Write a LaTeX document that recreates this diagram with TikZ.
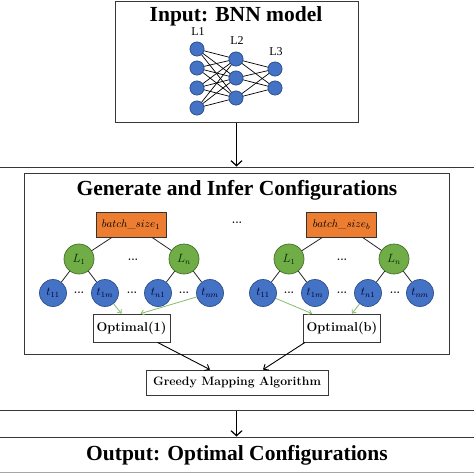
\documentclass[tikz,border=0pt]{standalone}
\usepackage{fontspec}
\newfontfamily\tnr{Liberation Serif}
\usetikzlibrary{arrows.meta}
\definecolor{nblue}{HTML}{4472C4}
\definecolor{nblued}{HTML}{2F528F}
\definecolor{ngreen}{HTML}{70AD47}
\definecolor{ngreend}{HTML}{466E2C}
\definecolor{norange}{HTML}{ED7D31}
\definecolor{frame}{HTML}{383838}
\definecolor{garr}{HTML}{86BD6A}
\begin{document}
\begin{tikzpicture}[x=1pt,y=-1pt,
  band/.style={draw=frame, line width=1pt, inner sep=0pt},
  bigtitle/.style={font=\tnr\bfseries\fontsize{21.5}{24}\selectfont, inner sep=0pt},
  nn/.style={circle, fill=nblue, draw=nblued, line width=0.6pt, minimum size=14pt, inner sep=0pt},
  lnode/.style={circle, fill=ngreen, draw=ngreend, line width=0.7pt, minimum size=30pt, inner sep=0pt, font=\fontsize{12}{14}\selectfont, text=black!85!green},
  tnode/.style={circle, fill=nblue, draw=nblued, line width=0.7pt, minimum size=27pt, inner sep=0pt, font=\fontsize{12}{14}\selectfont, text=black!80!blue},
  bsbox/.style={draw=black!80, line width=0.7pt, fill=norange, minimum width=70pt, minimum height=25pt, inner sep=0pt, font=\fontsize{11.3}{13}\selectfont},
  obox/.style={draw=frame, line width=0.8pt, fill=white, minimum width=77pt, minimum height=28pt, inner sep=0pt, font=\bfseries\fontsize{12.8}{14}\selectfont},
  dotsn/.style={font=\bfseries\fontsize{11}{13}\selectfont, inner sep=0pt},
  tree/.style={draw=black!85, line width=0.8pt},
  garrow/.style={draw=garr, line width=0.8pt, -{Straight Barb[length=3pt,width=5pt]}},
  barrow/.style={draw=black, line width=0.9pt, -{Straight Barb[length=4pt,width=7pt]}},
  bigarrow/.style={draw=black, line width=1.2pt, -{Straight Barb[length=5pt,width=11pt]}},
  nnedge/.style={draw=black, line width=0.7pt}
]
\useasboundingbox (0,0) rectangle (474,474);
\clip (0,0) rectangle (474,474);
\fill[white] (0,0) rectangle (474,474);

% ---------- input box ----------
\node[band, minimum width=243pt, minimum height=121pt] (inbox) at (236.5,61.5) {};
\node[bigtitle] (intitle) at (236,16) {Input: BNN model};
\node[nn] (a1) at (197,49) {};
\node[nn] (a2) at (197,68) {};
\node[nn] (a3) at (197,88) {};
\node[nn] (a4) at (197,108) {};
\node[nn] (b1) at (236,59) {};
\node[nn] (b2) at (236,78) {};
\node[nn] (b3) at (236,98) {};
\node[nn] (c1) at (275,69) {};
\node[nn] (c2) at (275,88) {};
\foreach \i in {1,...,4}{\foreach \j in {1,2,3}{\draw[nnedge] (a\i.center) -- (b\j.center);}}
\foreach \i in {1,2,3}{\foreach \j in {1,2}{\draw[nnedge] (b\i.center) -- (c\j.center);}}
\foreach \n in {a1,a2,a3,a4,b1,b2,b3,c1,c2}{\node[nn] at (\n) {};}
\node[font=\tnr\fontsize{12}{14}\selectfont, inner sep=0pt] (l1) at (198,32) {L1};
\node[font=\tnr\fontsize{12}{14}\selectfont, inner sep=0pt] (l2) at (237,41) {L2};
\node[font=\tnr\fontsize{12}{14}\selectfont, inner sep=0pt] (l3) at (276,52) {L3};

% ---------- middle band ----------
\node[band, minimum width=490pt, minimum height=243pt] (band) at (237,288.5) {};
\draw[bigarrow] (inbox.south) -- (inbox.south |- band.north);
\node[band, minimum width=425pt, minimum height=181pt] (inner) at (236.5,263.5) {};
\node[bigtitle] (gtitle) at (237,190) {Generate and Infer Configurations};

\node[bsbox] (bs1) at (131,224.5) {$batch\_size_1$};
\node[bsbox] (bsb) at (341.5,224.5) {$batch\_size_b$};
\node[dotsn] (d0) at (237,223) {...};

\node[lnode] (L11) at (79,259) {$L_1$};
\node[lnode] (L1n) at (184,259) {$L_n$};
\node[lnode] (Lb1) at (289,259) {$L_1$};
\node[lnode] (Lbn) at (394,259) {$L_n$};
\node[dotsn] (d1) at (133,260) {...};
\node[dotsn] (d2) at (342,260) {...};

\node[tnode] (a11) at (53,293) {$t_{11}$};
\node[tnode] (a1m) at (105,293) {$t_{1m}$};
\node[tnode] (an1) at (158,293) {$t_{n1}$};
\node[tnode] (anm) at (210,293) {$t_{nm}$};
\node[tnode] (b11) at (263,293) {$t_{11}$};
\node[tnode] (b1m) at (315,293) {$t_{1m}$};
\node[tnode] (bn1) at (368,293) {$t_{n1}$};
\node[tnode] (bnm) at (420,293) {$t_{nm}$};
\node[dotsn] (e1) at (79,293) {...};
\node[dotsn] (e2) at (132,293) {...};
\node[dotsn] (e3) at (184,293) {...};
\node[dotsn] (e4) at (289,293) {...};
\node[dotsn] (e5) at (342,293) {...};
\node[dotsn] (e6) at (395,293) {...};

\draw[tree] ([xshift=-19pt]bs1.south) -- (L11);
\draw[tree] ([xshift=21pt]bs1.south) -- (L1n);
\draw[tree] ([xshift=-19pt]bsb.south) -- (Lb1);
\draw[tree] ([xshift=21pt]bsb.south) -- (Lbn);
\draw[tree] (L11) -- (a11);
\draw[tree] (L11) -- (a1m);
\draw[tree] (L1n) -- (an1);
\draw[tree] (L1n) -- (anm);
\draw[tree] (Lb1) -- (b11);
\draw[tree] (Lb1) -- (b1m);
\draw[tree] (Lbn) -- (bn1);
\draw[tree] (Lbn) -- (bnm);

\node[obox] (o1) at (131.5,328) {Optimal(1)};
\node[obox] (ob) at (342,328) {Optimal(b)};
\draw[garrow] (a1m) -- ([xshift=-10pt]o1.north);
\draw[garrow] (anm) -- ([xshift=9pt]o1.north);
\draw[garrow] (b11) -- ([xshift=-30pt]ob.north);
\draw[garrow] (bn1) -- ([xshift=10pt]ob.north);

\node[obox, minimum width=182pt, minimum height=25pt, font=\bfseries\fontsize{12.2}{14}\selectfont] (greedy) at (237,382.5) {Greedy Mapping Algorithm};
\draw[barrow] ([xshift=26pt]o1.south) -- ([xshift=-27pt]greedy.north);
\draw[barrow] ([xshift=-37pt]ob.south) -- ([xshift=26pt]greedy.north);

% ---------- output band ----------
\node[band, minimum width=490pt, minimum height=35pt] (outband) at (237,454.5) {};
\draw[black!35, line width=1.5pt] (outband.south west) -- (outband.south east);
\draw[bigarrow] (inbox.south |- band.south) -- (inbox.south |- outband.north);
\node[bigtitle] (otitle) at (237,455) {Output: Optimal Configurations};
\end{tikzpicture}
\end{document}
